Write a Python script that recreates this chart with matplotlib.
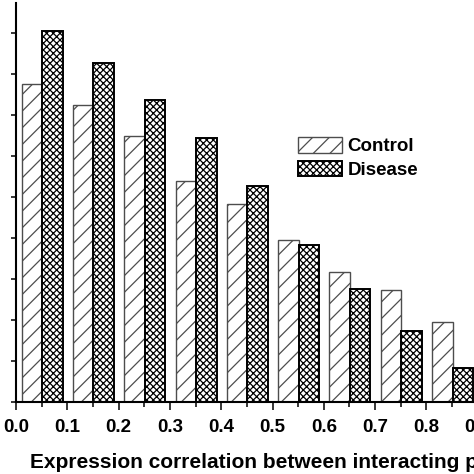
import matplotlib
matplotlib.use("Agg")
import matplotlib.pyplot as plt
import numpy as np

plt.rcParams.update({
    "font.family": ["Liberation Sans", "DejaVu Sans"],
    "font.weight": "bold",
    "hatch.linewidth": 0.9,
})

# bins of the expression correlation (left edge of each bin)
bins = [0.0, 0.1, 0.2, 0.3, 0.4, 0.5, 0.6, 0.7, 0.8]
control = [0.194, 0.181, 0.162, 0.135, 0.121, 0.099, 0.079, 0.068, 0.049]
disease = [0.226, 0.207, 0.184, 0.161, 0.132, 0.096, 0.069, 0.043, 0.021]
labels = ["Control", "Disease"]
xlabel = "Expression correlation between interacting pairs"

W = 474
fig = plt.figure(figsize=(4.74, 4.74), dpi=100)
# axes deliberately runs past the right edge / labels past the left edge (cropped figure)
ax = fig.add_axes([16 / W, 72 / W, 513 / W, 399 / W])

x = np.array(bins)
bw = 0.04
ax.bar(x + 0.031, control, bw, facecolor="white", edgecolor="#4d4d4d",
       linewidth=1.0, hatch="//", label=labels[0])
ax.bar(x + 0.071, disease, bw, facecolor="white", edgecolor="black",
       linewidth=1.4, hatch="xxxxx", label=labels[1])

ax.set_xlim(0, 1.0)
ax.set_ylim(0, 0.2433)
ax.set_xticks(np.arange(0, 1.01, 0.1))
ax.set_xticks(np.arange(0.05, 1.0, 0.1), minor=True)
ax.set_yticks(np.arange(0, 0.25, 0.05))
ax.set_yticks(np.arange(0.025, 0.25, 0.05), minor=True)
ax.xaxis.set_major_formatter(matplotlib.ticker.FormatStrFormatter("%.1f"))
ax.yaxis.set_major_formatter(matplotlib.ticker.FormatStrFormatter("%.2f"))

for s in ["top", "right"]:
    ax.spines[s].set_visible(False)
for s in ["left", "bottom"]:
    ax.spines[s].set_linewidth(1.5)

ax.tick_params(axis="x", which="major", direction="out", length=6, width=1.1,
               pad=6.5, labelsize=13.5)
ax.tick_params(axis="x", which="minor", direction="out", length=3.6, width=1.1)
ax.tick_params(axis="y", which="both", direction="out", length=3.6, width=1.1,
               pad=7.5, labelsize=13.5)

ax.set_xlabel(xlabel, fontsize=15, fontweight="bold", ha="left", va="center")
ax.xaxis.set_label_coords((30 - 16) / 513, -(462 - 402) / 399)

ax.legend(loc="upper left", bbox_to_anchor=(298 / W, 1 - 137 / W),
          bbox_transform=fig.transFigure, frameon=False, borderpad=0,
          borderaxespad=0, handlelength=2.35, handleheight=0.9,
          handletextpad=0.3, labelspacing=0.3,
          prop={"size": 13.5, "weight": "bold"})

fig.savefig("out.png", dpi=100)
